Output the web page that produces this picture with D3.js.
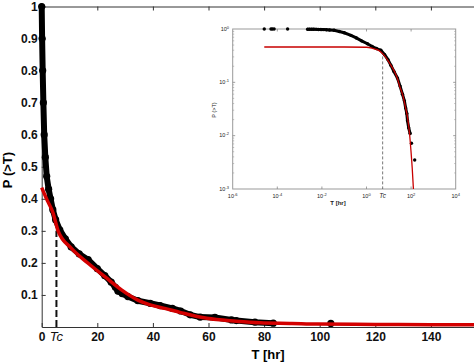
<!DOCTYPE html>
<html>
<head>
<meta charset="utf-8">
<script src="https://cdn.jsdelivr.net/npm/d3@7"></script>
<style>
  body { margin: 0; background: #fff; }
  text { font-family: "Liberation Sans", Arial, sans-serif; }
</style>
</head>
<body>
<div id="chart"></div>
<script>
// main plot: measured survival P(>T), T in hours
const dataT = [0, 0.15, 0.35, 0.6, 0.9, 1.3, 1.8, 2.5, 3.2, 4, 5, 6.5, 8.5, 10.6, 13.5, 16.7, 20, 22.7, 25, 26.5, 27.4, 29, 31, 34.6, 39, 42.6, 47, 50, 53.4, 57, 62.3, 68.3, 70, 76.7, 83.3, 104];
const dataP = [1.0, 0.9, 0.8, 0.7, 0.6, 0.53, 0.47, 0.43, 0.4, 0.366, 0.335, 0.303, 0.275, 0.25, 0.228, 0.21, 0.182, 0.16, 0.14, 0.124, 0.112, 0.104, 0.095, 0.082, 0.074, 0.067, 0.058, 0.05, 0.038, 0.031, 0.03, 0.022, 0.02, 0.015, 0.012, 0.011];

// main plot: fitted curve
const fitT = [0, 2, 4, 5.9, 10.6, 16.7, 22.7, 28.7, 34.6, 39, 44.2, 50, 59.4, 70, 78.6, 90, 99, 120, 140, 160];
const fitP = [0.435, 0.395, 0.358, 0.3, 0.246, 0.199, 0.157, 0.116, 0.084, 0.069, 0.058, 0.045, 0.027, 0.018, 0.013, 0.011, 0.009, 0.008, 0.007, 0.007];

const xTicks = [0, 20, 40, 60, 80, 100, 120, 140, 160];
const xLabels = [0, 20, 40, 60, 80, 100, 120, 140];
const yTicks = [0.1, 0.2, 0.3, 0.4, 0.5, 0.6, 0.7, 0.8, 0.9, 1];
const Tc = 5.3;

// inset (log-log)
const insetT = [2.6e-5, 5.2e-5, 6e-5, 7.2e-5, 2.9e-4, 2.3e-3, 2.8e-3, 3.5e-3, 4.3e-3, 5.5e-3, 7e-3, 9e-3, 0.012, 0.016, 0.022, 0.035, 0.06, 0.1, 0.2, 0.35, 0.6, 1.1, 1.8, 2.8, 4.4, 6.5, 9, 12.3, 17, 24.5, 32, 41, 50, 57, 64, 69, 78, 90, 104, 145];
const insetP = [1, 1, 1, 1, 1, 0.99, 0.99, 0.99, 0.99, 0.985, 0.98, 0.98, 0.975, 0.97, 0.96, 0.946, 0.9, 0.85, 0.76, 0.68, 0.6, 0.53, 0.47, 0.43, 0.4, 0.33, 0.27, 0.21, 0.16, 0.12, 0.085, 0.06, 0.045, 0.033, 0.026, 0.019, 0.014, 0.011, 0.0072, 0.0035];
const insetFitT = [2.6e-5, 0.1, 1, 2, 3, 4.4, 7, 12.3, 18, 24.5, 32, 41, 57, 69, 85, 98, 112, 127];
const insetFitP = [0.46, 0.46, 0.455, 0.43, 0.41, 0.37, 0.3, 0.21, 0.16, 0.117, 0.08, 0.06, 0.033, 0.022, 0.011, 0.0054, 0.0025, 0.001];
const insetXTicks = [1e-6, 1e-4, 1e-2, 1, 1e2, 1e4];
const insetYTicks = [1e-3, 1e-2, 1e-1, 1];

const W = 474, H = 362;
const svg = d3.select("#chart").append("svg")
  .attr("width", W).attr("height", H);

const x = d3.scaleLinear().domain([0, 160]).range([41.7, 486.5]);
const y = d3.scaleLinear().domain([0, 1]).range([327, 6.5]);

const main = d3.zip(dataT, dataP).map(([T, P]) => ({ T, P }));
const fit = d3.zip(fitT, fitP).map(([T, P]) => ({ T, P }));

// axes
svg.append("g")
  .attr("transform", "translate(0," + y(0) + ")")
  .call(d3.axisBottom(x).tickValues(xTicks).tickSizeInner(-4).tickSizeOuter(0).tickPadding(5)
    .tickFormat(d => xLabels.includes(d) ? d3.format("d")(d) : ""))
  .call(g => g.selectAll("text").attr("font-size", 12).attr("font-weight", "bold").attr("fill", "#111"));

svg.append("g")
  .attr("transform", "translate(0," + y(1) + ")")
  .call(d3.axisTop(x).tickValues(xTicks).tickSizeInner(-4).tickSizeOuter(0).tickFormat(""));

svg.append("g")
  .attr("transform", "translate(" + x(0) + ",0)")
  .call(d3.axisLeft(y).tickValues(yTicks).tickSizeInner(-4).tickSizeOuter(0).tickPadding(4)
    .tickFormat(d => d === 1 ? "1" : d3.format(".1f")(d)))
  .call(g => g.selectAll("text").attr("font-size", 12).attr("font-weight", "bold").attr("fill", "#111"));

svg.selectAll(".domain, .tick line").attr("stroke", "#333");

// Tc dashed marker
svg.append("line")
  .attr("x1", x(Tc)).attr("x2", x(Tc))
  .attr("y1", y(0)).attr("y2", y(0.3))
  .attr("stroke", "#111").attr("stroke-width", 2).attr("stroke-dasharray", "7,3");

// data band
const line = d3.line().x(d => x(d.T)).y(d => y(d.P));
svg.append("path")
  .datum(main.filter(d => d.T < 90))
  .attr("d", line)
  .attr("fill", "none").attr("stroke", "#000").attr("stroke-width", 6)
  .attr("stroke-linejoin", "round").attr("stroke-linecap", "round");
svg.append("g").selectAll("circle").data(main).enter().append("circle")
  .attr("cx", d => x(d.T)).attr("cy", d => y(d.P)).attr("r", 3.6).attr("fill", "#000");

svg.append("path")
  .datum(fit)
  .attr("d", line.curve(d3.curveMonotoneX))
  .attr("fill", "none").attr("stroke", "#d40000").attr("stroke-width", 3.5);

// labels
svg.append("text").attr("x", x(Tc)).attr("y", 341).attr("text-anchor", "middle")
  .attr("font-size", 13).attr("font-style", "italic").attr("fill", "#111").text("Tc");
svg.append("text").attr("x", 268).attr("y", 359).attr("text-anchor", "middle")
  .attr("font-size", 13).attr("font-weight", "bold").text("T [hr]");
svg.append("text").attr("transform", "translate(12,170) rotate(-90)").attr("text-anchor", "middle")
  .attr("font-size", 13).attr("font-weight", "bold").text("P (>T)");

// ---- inset ----
const xi = d3.scaleLog().domain([1e-6, 1e4]).range([232.7, 455.7]);
const yi = d3.scaleLog().domain([1e-3, 1]).range([189, 29]);
const inset = svg.append("g");

inset.append("rect")
  .attr("x", xi(1e-6)).attr("y", yi(1))
  .attr("width", xi(1e4) - xi(1e-6)).attr("height", yi(1e-3) - yi(1))
  .attr("fill", "#fff").attr("stroke", "#999").attr("stroke-width", 1);

// ticks
const minorY = [];
insetYTicks.slice(0, -1).forEach(t => { for (let k = 2; k < 10; k++) minorY.push(t * k); });
inset.selectAll(".xt").data(insetXTicks.slice(1, -1)).enter().append("path")
  .attr("d", d => `M${xi(d)},${yi(1e-3)}v-2.5M${xi(d)},${yi(1)}v2.5`)
  .attr("stroke", "#888").attr("stroke-width", 0.8);
inset.selectAll(".yt").data(insetYTicks.slice(1, -1)).enter().append("path")
  .attr("d", d => `M${xi(1e-6)},${yi(d)}h2.5M${xi(1e4)},${yi(d)}h-2.5`)
  .attr("stroke", "#888").attr("stroke-width", 0.8);
inset.selectAll(".ym").data(minorY).enter().append("path")
  .attr("d", d => `M${xi(1e-6)},${yi(d)}h1.5M${xi(1e4)},${yi(d)}h-1.5`)
  .attr("stroke", "#999").attr("stroke-width", 0.6);

const exp = v => Math.round(Math.log10(v));
const xl = inset.selectAll(".xl").data(insetXTicks).enter().append("text")
  .attr("x", d => xi(d)).attr("y", 198).attr("text-anchor", "middle")
  .attr("font-size", 5.5).attr("fill", "#222");
xl.append("tspan").text("10");
xl.append("tspan").attr("dy", -2).attr("font-size", 4).text(d => exp(d));

const yl = inset.selectAll(".yl").data(insetYTicks).enter().append("text")
  .attr("x", 229).attr("y", d => yi(d) + 1.5).attr("text-anchor", "end")
  .attr("font-size", 5.5).attr("fill", "#222");
yl.append("tspan").text("10");
yl.append("tspan").attr("dy", -2).attr("font-size", 4).text(d => exp(d));

inset.append("text").attr("x", 338).attr("y", 205).attr("text-anchor", "middle")
  .attr("font-size", 6).attr("font-weight", "bold").attr("fill", "#222").text("T [hr]");
inset.append("text").attr("transform", "translate(216,110) rotate(-90)").attr("text-anchor", "middle")
  .attr("font-size", 5.5).attr("fill", "#222").text("P (>T)");
inset.append("text").attr("x", xi(Tc)).attr("y", 198).attr("text-anchor", "middle")
  .attr("font-size", 6.5).attr("font-style", "italic").attr("fill", "#222").text("Tc");

inset.append("line")
  .attr("x1", xi(Tc)).attr("x2", xi(Tc))
  .attr("y1", yi(0.38)).attr("y2", yi(1e-3))
  .attr("stroke", "#555").attr("stroke-width", 0.8).attr("stroke-dasharray", "3,2");

const insetData = d3.zip(insetT, insetP).map(([T, P]) => ({ T, P }));
const insetFit = d3.zip(insetFitT, insetFitP).map(([T, P]) => ({ T, P }));
const li = d3.line().x(d => xi(d.T)).y(d => yi(d.P));

inset.append("path")
  .datum(insetData.filter(d => d.T > 2e-3 && d.T < 100))
  .attr("d", li)
  .attr("fill", "none").attr("stroke", "#000").attr("stroke-width", 3)
  .attr("stroke-linecap", "round");
inset.selectAll("circle").data(insetData).enter().append("circle")
  .attr("cx", d => xi(d.T)).attr("cy", d => yi(d.P)).attr("r", 1.7).attr("fill", "#000");

inset.append("path")
  .datum(insetFit)
  .attr("d", li.curve(d3.curveMonotoneX))
  .attr("fill", "none").attr("stroke", "#c80000").attr("stroke-width", 1.3);
</script>
</body>
</html>
